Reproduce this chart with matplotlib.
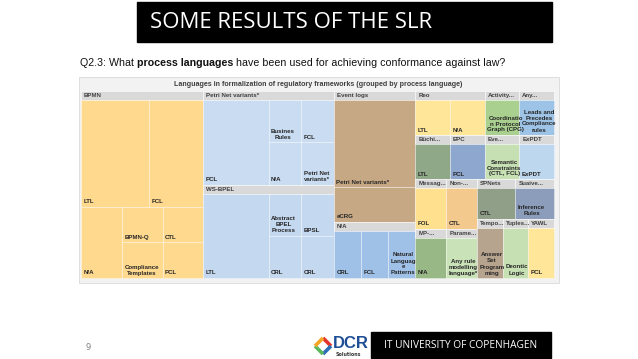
import matplotlib
matplotlib.use('Agg')  # no display
import matplotlib.pyplot as plt
from matplotlib.patches import Rectangle
from matplotlib import font_manager

# --- DATA: number of papers per language, grouped by process language ---
bpmn_langs = ["LTL", "FCL", "N/A", "BPMN-Q", "CTL", "Compliance\nTemplates", "PCL"]
bpmn_counts = [5, 4, 2, 1, 1, 1, 1]
petri_langs = ["PCL", "Busines\nRules", "FCL", "N/A", "Petri Net\nvariants*"]
petri_counts = [4, 1, 1, 1, 1]
wsbpel_langs = ["LTL", "Abstract\nBPEL\nProcess", "BPSL", "CRL", "CRL"]
wsbpel_counts = [4, 1, 1, 1, 1]
eventlog_langs = ["Petri Net variants*", "eCRG"]
eventlog_counts = [5, 2]
na_langs = ["CRL", "FCL", "Natural\nLanguag\ne\nPatterns"]
na_counts = [1, 1, 1]
reo_langs = ["LTL", "N/A"]
reo_counts = [1, 1]
activity_langs = ["Coordinatio\nn Protocol\nGraph (CPG)"]
any_langs = ["Leads and\nPrecedes\nCompliance\nrules"]
buchi_langs = ["LTL"]
epc_langs = ["PCL"]
eve_langs = ["Semantic\nConstraints\n(CTL, FCL)"]
expdt_langs = ["ExPDT"]
messag_langs = ["FOL"]
non_langs = ["CTL"]
spnets_langs = ["CTL"]
suaive_langs = ["Inference\nRules"]
tempo_langs = ["Answer\nSet\nProgram\nming"]
tuples_langs = ["Deontic\nLogic"]
yawl_langs = ["PCL"]
mp_langs = ["N/A"]
parame_langs = ["Any rule\nmodelling\nlanguage*"]
single_count = [1]

# split structure of the treemap: ('h', ...) side by side, ('v', ...) stacked
bpmn_split = ('v', ('h', 0, 1), ('h', 2, ('v', ('h', 3, 4), ('h', 5, 6))))
block_split = ('h', 0, ('v', ('h', 1, 2), ('h', 3, 4)))
top_split = ('h', 'BPMN',
             ('v', 'Petri Net variants*', 'WS-BPEL'),
             ('v', 'Event logs', 'N/A'),
             ('v', ('h', 'Reo', 'Activity...', 'Any...'),
                   ('h', 'Büchi...', 'EPC', 'Eve...', 'ExPDT'),
                   ('h', ('v', 'Messag...', 'MP-...'), ('v', 'Non-...', 'Parame...'),
                         ('v', ('h', 'SPNets', 'Suaive...'),
                               ('h', 'Tempo...', 'Tuples...', 'YAWL')))))

groups = {
    'BPMN': (bpmn_langs, bpmn_counts, bpmn_split, '#FFD98E'),
    'Petri Net variants*': (petri_langs, petri_counts, block_split, '#C9DCF1'),
    'WS-BPEL': (wsbpel_langs, wsbpel_counts, block_split, '#C4D8EF'),
    'Event logs': (eventlog_langs, eventlog_counts, ('v', 0, 1), '#C7A884'),
    'N/A': (na_langs, na_counts, ('h', 0, 1, 2), '#9FC0E7'),
    'Reo': (reo_langs, reo_counts, ('h', 0, 1), '#FFE699'),
    'Activity...': (activity_langs, single_count, 0, '#A9D08E'),
    'Any...': (any_langs, single_count, 0, '#9DC3E6'),
    'Büchi...': (buchi_langs, single_count, 0, '#8FA888'),
    'EPC': (epc_langs, single_count, 0, '#8EA7CF'),
    'Eve...': (eve_langs, single_count, 0, '#C6E0B4'),
    'ExPDT': (expdt_langs, single_count, 0, '#BDD7EE'),
    'Messag...': (messag_langs, single_count, 0, '#FFE08F'),
    'Non-...': (non_langs, single_count, 0, '#F4C98E'),
    'SPNets': (spnets_langs, single_count, 0, '#8F9F88'),
    'Suaive...': (suaive_langs, single_count, 0, '#8B9DBA'),
    'Tempo...': (tempo_langs, single_count, 0, '#B7A48E'),
    'Tuples...': (tuples_langs, single_count, 0, '#C6E0B4'),
    'YAWL': (yawl_langs, single_count, 0, '#FFE699'),
    'MP-...': (mp_langs, single_count, 0, '#98B886'),
    'Parame...': (parame_langs, single_count, 0, '#C9E2B8'),
}

names = {f.name for f in font_manager.fontManager.ttflist}
CELL_FONT = 'Liberation Sans Narrow' if 'Liberation Sans Narrow' in names else 'Liberation Sans'
HB = 9  # height of a group banner, px


def weight(node, count_of):
    if isinstance(node, tuple):
        return sum(weight(k, count_of) for k in node[1:])
    return count_of(node)


def slice_layout(node, x, y, w, h, count_of, place):
    if not isinstance(node, tuple):
        place(node, x, y, w, h)
        return
    kids = node[1:]
    total = sum(weight(k, count_of) for k in kids)
    pos = 0.0
    for k in kids:
        frac = weight(k, count_of) / total
        if node[0] == 'h':
            slice_layout(k, x + pos * w, y, w * frac, h, count_of, place)
        else:
            slice_layout(k, x, y + pos * h, w, h * frac, count_of, place)
        pos += frac


fig = plt.figure(figsize=(6.38, 3.59), dpi=100)
ax = fig.add_axes([0, 0, 1, 1])
ax.set_xlim(0, 638)
ax.set_ylim(359, 0)
ax.axis('off')

# --- slide title ---
ax.add_patch(Rectangle((137, 2), 415, 40, color='black'))
ax.text(150, 23, 'SOME RESULTS OF THE SLR', color='white', fontsize=16,
        family='Open Sans', va='center')

# --- question line, with the bold part ---
renderer = fig.canvas.get_renderer()
x = 80
for part, fw in [('Q2.3: What ', 'normal'), ('process languages', 'bold'),
                 (' have been used for achieving conformance against law?', 'normal')]:
    t = ax.text(x, 63, part, fontsize=7.7, family='Liberation Sans', fontweight=fw,
                va='center', color='#111111')
    x += t.get_window_extent(renderer=renderer).width

# --- treemap ---
ax.add_patch(Rectangle((79, 77), 480, 206, facecolor='#F2F2F2', edgecolor='#D9D9D9', lw=0.6))
ax.text(318, 84.5, 'Languages in formalization of regulatory frameworks (grouped by process language)',
        fontsize=5.1, fontweight='bold', family=CELL_FONT, color='#404040',
        ha='center', va='center')


def draw_group(name, x, y, w, h):
    langs, counts, split, color = groups[name]
    ax.add_patch(Rectangle((x, y), w, HB, facecolor='#D9D9D9', edgecolor='white', lw=0.4))
    ax.text(x + 3, y + HB / 2 + 0.3, name, fontsize=4.4, fontweight='bold',
            family=CELL_FONT, color='#404040', va='center')

    def draw_leaf(i, lx, ly, lw, lh):
        ax.add_patch(Rectangle((lx, ly), lw, lh, facecolor=color,
                               edgecolor=(1, 1, 1, 0.5), lw=0.5))
        ax.text(lx + 2.5, ly + lh - 2.5, langs[i], fontsize=4.4, fontweight='bold',
                family=CELL_FONT, color='#262626', ha='left', va='bottom',
                multialignment='center', linespacing=1.25)

    slice_layout(split, x, y + HB, w, h - HB, lambda i: counts[i], draw_leaf)


slice_layout(top_split, 81, 91, 473, 187, lambda g: sum(groups[g][1]), draw_group)

# --- footer ---
ax.text(86, 348, '9', fontsize=6, color='#808080', va='center')

cx, cy, r = 323, 346, 8
pts = [(cx, cy - r), (cx + r, cy), (cx, cy + r), (cx - r, cy)]
for i, c in enumerate(['#E2352B', '#2C6FB7', '#5CB85C', '#F5A623']):
    p, q = pts[i], pts[(i + 1) % 4]
    ax.plot([p[0], q[0]], [p[1], q[1]], color=c, lw=2.6, solid_capstyle='butt')
ax.text(333, 343, 'DCR', fontsize=12, fontweight='bold', family=CELL_FONT,
        color='#1D4E96', va='center')
ax.text(348, 355, 'Solutions', fontsize=3.4, fontweight='bold', color='#333333',
        ha='center', va='center')

ax.add_patch(Rectangle((371, 332), 180, 26, color='black'))
ax.text(461, 345, 'IT UNIVERSITY OF COPENHAGEN', fontsize=7.3, family='Open Sans',
        color='white', ha='center', va='center')

fig.savefig('out.png', dpi=100)
